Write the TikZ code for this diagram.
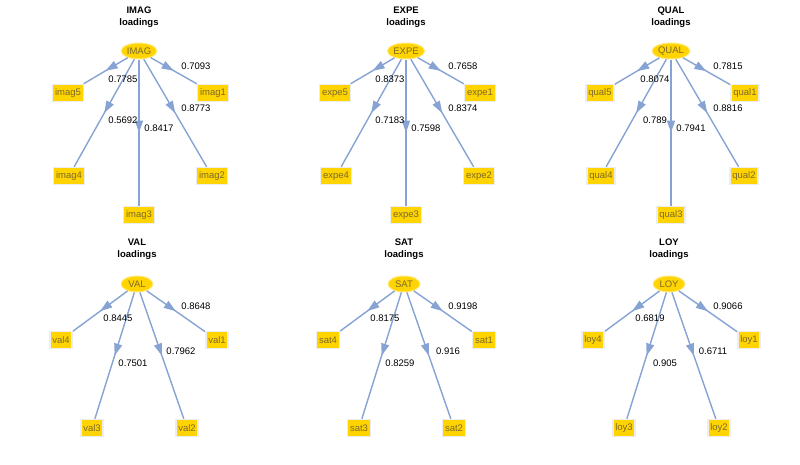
\documentclass[tikz,border=0pt]{standalone}
\usepackage{fontspec}
\setmainfont{Liberation Sans}
\usetikzlibrary{arrows.meta,decorations.markings,shapes.geometric}
\definecolor{gold}{HTML}{FFD400}
\definecolor{txt}{HTML}{7A6A2A}
\definecolor{edge}{HTML}{86A3D4}
\begin{document}
\begin{tikzpicture}[x=1pt,y=-1pt,
 lat/.style={ellipse,fill=gold,draw=gold!50!white,line width=1pt,text=txt,font=\fontsize{9.5}{10}\selectfont,inner sep=0.5pt,minimum width=32pt,minimum height=16pt},
 ind/.style={rectangle,fill=gold,draw=black!7,line width=1.5pt,text=txt,font=\fontsize{9.5}{10}\selectfont,inner sep=2.5pt,minimum height=17pt},
 ttl/.style={font=\bfseries\fontsize{9.5}{12.5}\selectfont,align=center},
 lab/.style={font=\fontsize{9.5}{10}\selectfont},
 ld/.style={draw=edge,line width=1.4pt,postaction={decorate},decoration={markings,mark=at position 0.5 with {\arrow[edge]{Triangle[length=12pt,width=8pt]}}}}]
\useasboundingbox (0,0) rectangle (800,464);
\foreach \cx/\L/\p/\a/\b/\c/\d/\e in {139/IMAG/imag/0.7093/0.8773/0.8417/0.5692/0.7785,406/EXPE/expe/0.7658/0.8374/0.7598/0.7183/0.8373,671/QUAL/qual/0.7815/0.8816/0.7941/0.789/0.8074}{
 \node[ttl] (t\p) at (\cx,17) {\L\\loadings};
 \node[lat] (\L) at (\cx,51) {\L};
 \node[ind] (\p1) at (\cx+74,93) {\p1};
 \node[ind] (\p2) at (\cx+73,176) {\p2};
 \node[ind] (\p3) at (\cx,215) {\p3};
 \node[ind] (\p4) at (\cx-70,176) {\p4};
 \node[ind] (\p5) at (\cx-71,93) {\p5};
 \foreach \i in {1,...,5}{\draw[ld] (\L) -- (\p\i);}
 \node[lab] (l\p1) at (\cx+57,66) {\a};
 \node[lab] (l\p2) at (\cx+57,108) {\b};
 \node[lab] (l\p3) at (\cx+20,128) {\c};
 \node[lab] (l\p4) at (\cx-16,120) {\d};
 \node[lab] (l\p5) at (\cx-16,79) {\e};
}
\foreach \cx/\L/\p/\a/\b/\c/\d in {137/VAL/val/0.8648/0.7962/0.7501/0.8445,404/SAT/sat/0.9198/0.916/0.8259/0.8175,669/LOY/loy/0.9066/0.6711/0.905/0.6819}{
 \node[ttl] (t\p) at (\cx,249) {\L\\loadings};
 \node[lat] (\L) at (\cx,284) {\L};
 \node[ind] (\p1) at (\cx+80,340) {\p1};
 \node[ind] (\p2) at (\cx+50,428) {\p2};
 \node[ind] (\p3) at (\cx-45,428) {\p3};
 \node[ind] (\p4) at (\cx-76,340) {\p4};
 \foreach \i in {1,...,4}{\draw[ld] (\L) -- (\p\i);}
 \node[lab] (l\p1) at (\cx+59,306) {\a};
 \node[lab] (l\p2) at (\cx+44,351) {\b};
 \node[lab] (l\p3) at (\cx-4,363) {\c};
 \node[lab] (l\p4) at (\cx-19,318) {\d};
}
\end{tikzpicture}
\end{document}
